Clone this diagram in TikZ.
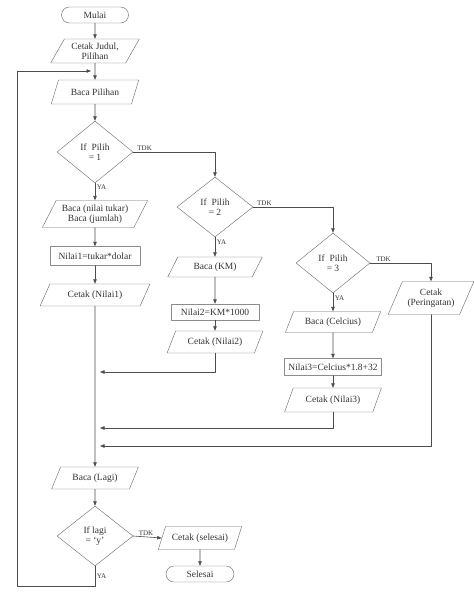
\documentclass[tikz,border=0pt]{standalone}
\usepackage{fontspec}
\setmainfont{Liberation Serif}
\usetikzlibrary{shapes.geometric,shapes.misc,arrows.meta,positioning}

\begin{document}
\begin{tikzpicture}[x=1pt,y=-1pt, line cap=round,line join=round,
  >={Triangle[length=4.5pt,width=3.5pt]},
  every node/.style={font=\fontsize{9.5}{10.5}\selectfont, text=black!80},
  terminal/.style={rounded rectangle, draw=black!60, minimum width=#1, minimum height=16pt, inner sep=1pt},
  io/.style 2 args={trapezium, trapezium left angle=60, trapezium right angle=120,
    trapezium stretches=true, draw=black!60, minimum width=#1, minimum height=#2,
    inner sep=1pt, align=center},
  process/.style 2 args={rectangle, draw=black!45, minimum width=#1, minimum height=#2, inner sep=1pt},
  decision/.style={diamond, draw=black!60, minimum width=76pt, minimum height=62pt, inner sep=0pt, align=center},
  tag/.style={font=\fontsize{7}{8}\selectfont, inner sep=1.5pt},
  line/.style={draw=black!70, semithick}]
\useasboundingbox (0,0) rectangle (474,600);
% main column
\node[terminal=69pt] (mulai) at (95,15) {Mulai};
\node[io={89pt}{24pt}] (judul) at (95,51) {Cetak Judul,\\ Pilihan};
\node[io={88pt}{24pt}] (bacapil) at (95,92) {Baca Pilihan};
\node[decision] (d1) at (95,152) {If~~Pilih\\ = 1};
\node[io={106pt}{27pt}] (baca1) at (95,214) {Baca (nilai tukar)\\ Baca (jumlah)};
\node[process={90pt}{19pt}] (nilai1) at (95,256) {Nilai1=tukar*dolar};
\node[io={110pt}{22pt}] (cetak1) at (95,295) {Cetak (Nilai1)};
% pilih 2
\node[decision, minimum height=60pt] (d2) at (215,207) {If~~Pilih\\ = 2};
\node[io={95pt}{20pt}] (baca2) at (215,267) {Baca (KM)};
\node[process={88pt}{16pt}] (nilai2) at (215,312) {Nilai2=KM*1000};
\node[io={96pt}{22pt}] (cetak2) at (215,342) {Cetak (Nilai2)};
% pilih 3
\node[decision, minimum width=74pt, minimum height=60pt] (d3) at (333,263) {If~~Pilih\\ = 3};
\node[io={96pt}{21pt}] (baca3) at (333,322) {Baca (Celcius)};
\node[process={97pt}{17pt}] (nilai3) at (333,367) {Nilai3=Celcius*1.8+32};
\node[io={97pt}{24pt}] (cetak3) at (333,400) {Cetak (Nilai3)};
\node[io={86pt}{33pt}] (warn) at (431,298) {Cetak\\ (Peringatan)};
% ulang
\node[io={87pt}{22pt}] (lagi) at (95,478) {Baca (Lagi)};
\node[decision, minimum height=60pt] (d4) at (95,536) {If lagi\\ = `y'};
\node[io={84pt}{23pt}] (cetaks) at (200,538) {Cetak (selesai)};
\node[terminal=70pt] (selesai) at (200,574) {Selesai};

\coordinate (ret2) at (100,372);
\coordinate (ret3) at (100,428);
\coordinate (ret4) at (100,446);
\coordinate (loopin) at (91,71);
\coordinate (loopa) at (95,586);
\coordinate (loopb) at (17,586);
\coordinate (loopc) at (17,71);

\draw[line,->] (mulai) -- (judul);
\draw[line,->] (judul) -- (bacapil);
\draw[line,->] (bacapil) -- (d1);
\draw[line,->] (d1) -- node[tag, near start, right]{YA} (baca1);
\draw[line,->] (d1.east) -| node[tag, pos=0.07, above]{TDK} (d2.north);
\draw[line,->] (baca1) -- (nilai1);
\draw[line,->] (nilai1) -- (cetak1);
\draw[line,->] (cetak1) -- (lagi);

\draw[line,->] (d2) -- node[tag, near start, right]{YA} (baca2);
\draw[line,->] (d2.east) -| node[tag, pos=0.07, above]{TDK} (d3.north);
\draw[line,->] (baca2) -- (nilai2);
\draw[line,->] (nilai2) -- (cetak2);
\draw[line,->] (cetak2.south) |- (ret2);

\draw[line,->] (d3) -- node[tag, near start, right]{YA} (baca3);
\draw[line,->] (d3.east) -| node[tag, pos=0.11, above]{TDK} (warn.north);
\draw[line,->] (baca3) -- (nilai3);
\draw[line,->] (nilai3) -- (cetak3);
\draw[line,->] (cetak3.south) |- (ret3);
\draw[line,->] (warn.south) |- (ret4);

\draw[line,->] (lagi) -- (d4);
\draw[line,->] (d4.east) -- node[tag, pos=0.45, above]{TDK} (cetaks.west);
\draw[line,->] (cetaks) -- (selesai);
\draw[line,->] (d4.south) -- node[tag, right]{YA} (loopa) -- (loopb) -- (loopc) -- (loopin);
\end{tikzpicture}
\end{document}
